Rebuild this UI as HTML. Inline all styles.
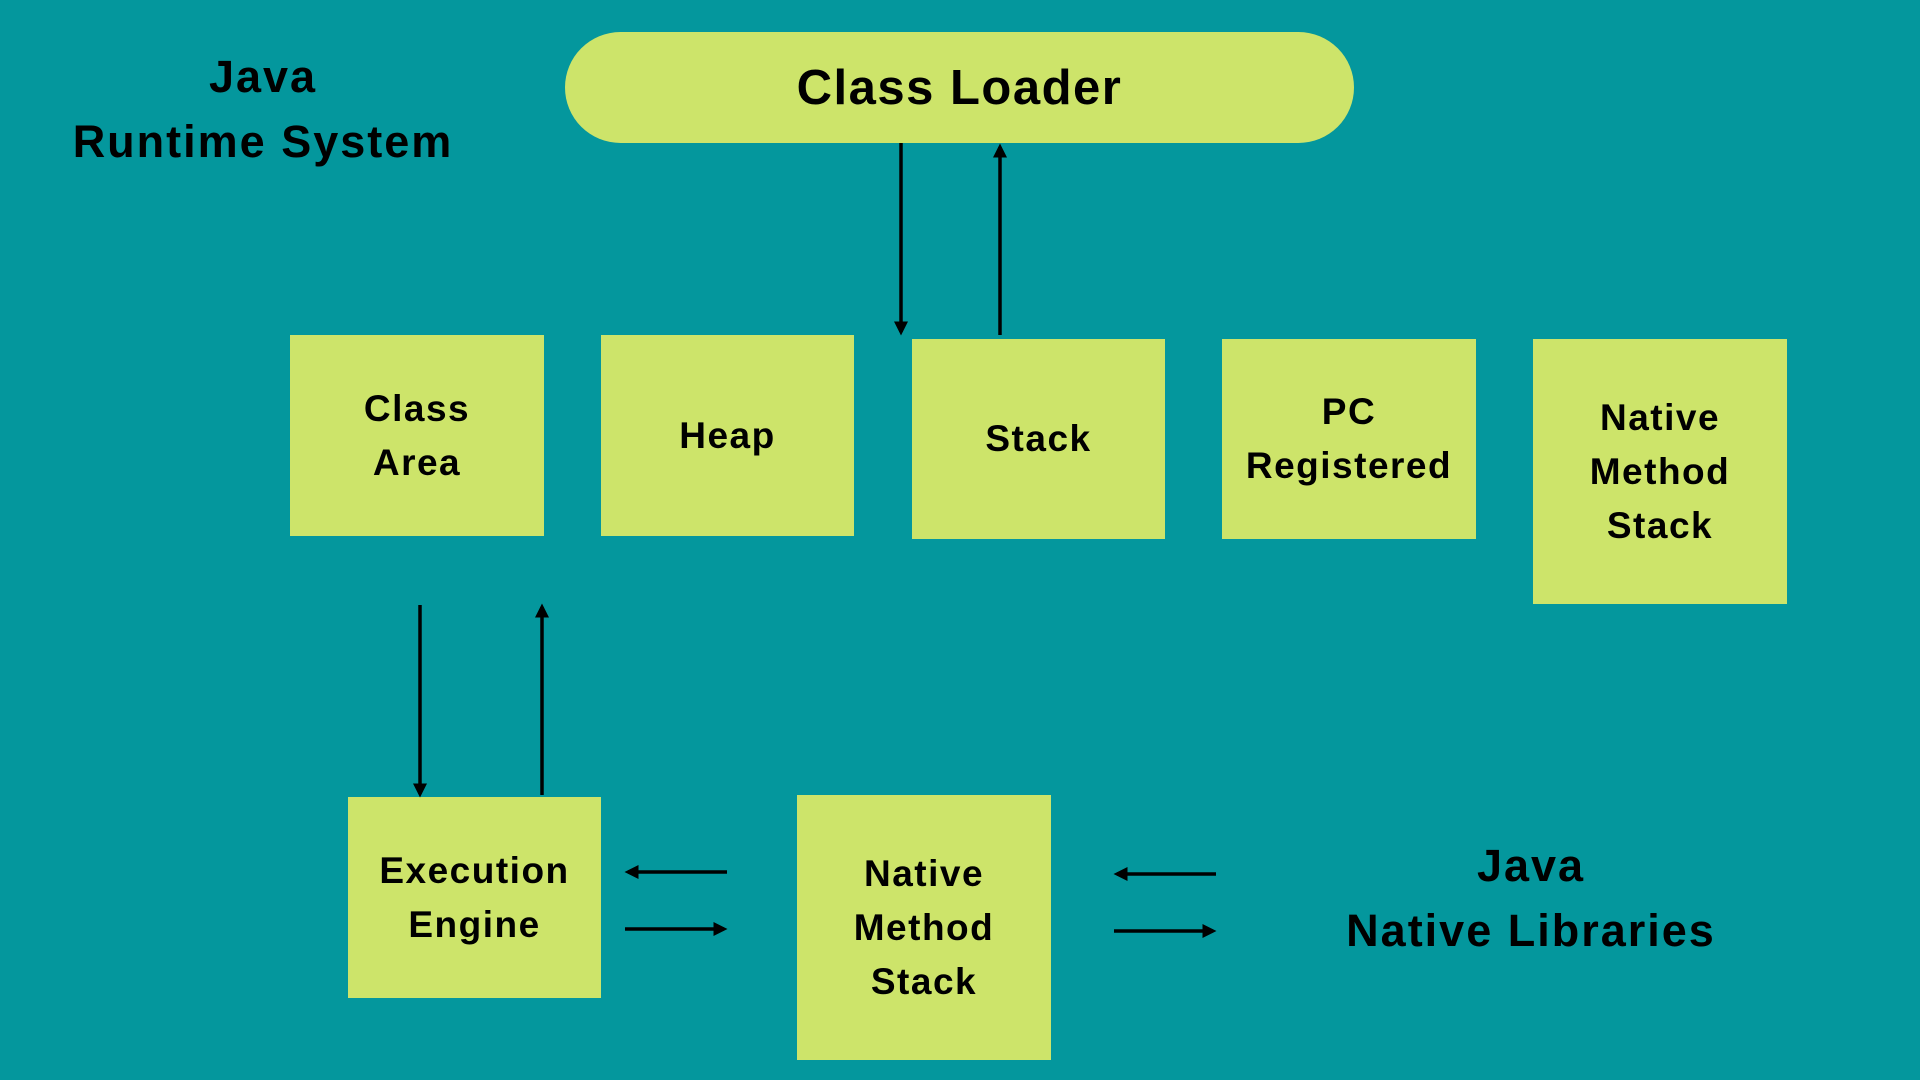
<!DOCTYPE html>
<html><head><meta charset="utf-8"><style>
html,body{margin:0;padding:0}
body{width:1920px;height:1080px;background:#04979d;position:relative;overflow:hidden;font-family:"Liberation Sans",sans-serif;font-weight:bold;color:#000}
.b{position:absolute;background:#cde46a;display:flex;align-items:center;justify-content:center;text-align:center;font-size:37px;line-height:54px;letter-spacing:1.5px}
.t{position:absolute;text-align:center;font-size:45px;line-height:65px;letter-spacing:2px}
svg{position:absolute;left:0;top:0}
</style></head><body>
<div class="b" style="left:565px;top:32px;width:789px;height:111px;border-radius:56px;font-size:49px">Class Loader</div>
<div class="t" style="left:63px;top:44px;width:400px">Java<br>Runtime System</div>
<div class="b" style="left:290px;top:335px;width:254px;height:201px">Class<br>Area</div>
<div class="b" style="left:601px;top:335px;width:253px;height:201px">Heap</div>
<div class="b" style="left:912px;top:339px;width:253px;height:200px">Stack</div>
<div class="b" style="left:1222px;top:339px;width:254px;height:200px">PC<br>Registered</div>
<div class="b" style="left:1533px;top:339px;width:254px;height:265px">Native<br>Method<br>Stack</div>
<div class="b" style="left:348px;top:797px;width:253px;height:201px">Execution<br>Engine</div>
<div class="b" style="left:797px;top:795px;width:254px;height:265px">Native<br>Method<br>Stack</div>
<div class="t" style="left:1231px;top:833px;width:600px">Java<br>Native Libraries</div>
<svg width="1920" height="1080">
<defs><marker id="a" markerWidth="4" markerHeight="4" refX="3" refY="2" orient="auto"><path d="M0,0 L4,2 L0,4 Z" fill="#000"/></marker></defs>
<g stroke="#000" stroke-width="3.5" marker-end="url(#a)">
<line x1="901" y1="143" x2="901" y2="332"/>
<line x1="1000" y1="335" x2="1000" y2="147"/>
<line x1="420" y1="605" x2="420" y2="794"/>
<line x1="542" y1="795" x2="542" y2="607"/>
<line x1="727" y1="872" x2="628" y2="872"/>
<line x1="625" y1="929" x2="724" y2="929"/>
<line x1="1216" y1="874" x2="1117" y2="874"/>
<line x1="1114" y1="931" x2="1213" y2="931"/>
</g></svg>
</body></html>
